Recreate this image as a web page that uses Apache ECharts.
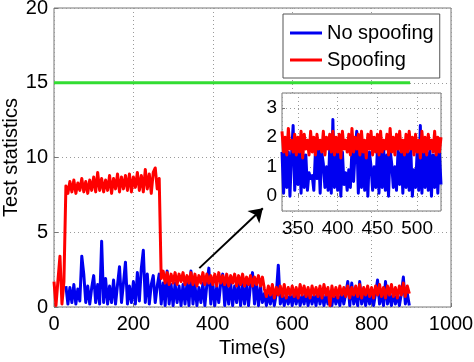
<!DOCTYPE html>
<html><head><meta charset="utf-8">
<script src="https://cdn.jsdelivr.net/npm/echarts@6/dist/echarts.min.js"></script>
<style>html,body{margin:0;padding:0;background:#fff}#c{width:474px;height:362px}</style>
</head><body><div id="c"></div>
<script>
// ---- main plot samples: one every 5 s starting at t = 0 ----
const mainStart = 0, mainStep = 5;
const noSpoofing = [
  null,null,null,null,null,null,1.4,0.2,1.3,0.3,
  1.5,0.2,1.2,0.4,3.4,2.2,0.3,1.4,0.2,1.3,
  2.1,0.3,1.5,0.2,4.4,0.3,1.9,0.2,1.4,0.3,
  1.8,0.2,1.5,2.7,0.3,1.6,3.0,0.2,1.4,0.3,
  1.7,0.2,2.3,0.4,2.6,3.8,0.3,2.2,0.2,1.5,
  2.1,0.3,1.4,2.2,0.2,1.6,0.1,2.4,0.2,1.5,
  0.1,1.6,0.3,1.4,0.1,1.5,0.2,1.6,0.1,2.4,
  0.2,1.5,0.1,1.3,0.3,1.6,0.1,1.5,2.6,0.2,
  1.6,0.1,1.4,0.3,1.6,2.2,0.1,1.5,0.2,1.6,
  0.1,1.4,0.3,1.6,0.1,1.5,0.2,1.6,0.1,1.5,
  2.3,0.2,1.6,0.1,1.4,0.3,0.9,0.1,0.8,0.2,
  1.0,0.1,0.9,2.8,0.2,0.8,0.1,0.9,0.2,0.8,
  0.1,1.0,0.2,0.9,0.1,0.8,0.2,1.0,0.1,0.9,
  0.2,0.8,0.1,1.1,0.2,0.9,0.1,0.8,0.2,1.0,
  0.1,0.9,0.2,0.8,0.1,1.0,0.2,0.9,1.7,0.1,
  1.6,0.2,0.9,0.1,1.7,0.2,0.9,0.1,1.0,0.2,
  0.8,0.1,0.9,1.8,0.2,0.9,0.1,1.7,0.2,0.9,
  0.1,1.0,0.2,0.8,0.1,0.9,2.0,0.2,0.9,0.1
];
const spoofing = [
  1.7,0.1,1.8,3.4,0.2,1.7,8.1,7.6,8.4,7.7,
  8.5,7.6,8.3,7.8,8.6,7.7,8.4,7.6,8.5,7.8,
  8.7,7.7,9.0,7.8,8.6,7.7,8.5,7.8,8.8,7.6,
  8.6,7.9,8.9,7.7,8.7,7.9,8.8,7.8,8.9,7.7,
  8.7,8.0,9.0,7.8,8.8,7.7,9.2,7.9,8.9,7.6,
  9.0,9.3,7.9,8.6,1.9,2.4,1.6,2.3,1.5,2.2,
  1.6,2.3,1.5,2.2,1.7,2.3,1.5,2.1,1.6,2.3,
  1.5,2.2,1.4,2.1,1.6,2.3,1.5,2.2,1.6,2.1,
  1.5,2.2,1.4,2.3,1.6,2.1,1.5,2.2,1.4,2.1,
  1.6,2.2,1.4,2.1,1.5,2.2,1.4,2.0,1.5,2.1,
  1.4,2.0,1.5,2.1,1.4,2.0,1.2,0.7,1.4,0.8,
  1.5,0.6,1.3,0.8,1.4,0.7,1.5,0.6,1.3,0.8,
  1.4,0.7,1.3,0.6,1.5,0.8,1.4,0.7,1.3,0.6,
  1.4,0.8,1.3,0.7,1.4,0.6,1.5,0.8,1.3,0.1,
  1.4,0.7,1.3,0.6,1.4,0.8,1.3,0.7,1.4,0.6,
  1.3,0.8,1.4,0.7,1.5,0.6,1.3,0.8,1.4,0.7,
  1.3,0.6,1.4,0.8,1.5,0.7,1.3,0.6,1.4,0.8,
  1.5,0.7,1.3,0.6,1.4,0.8,1.6,0.7,1.4,0.9
];
// threshold line
const thresholdValue = 15;
const thresholdTimes = [0, 897];

// ---- inset (zoom of 330-530 s): one sample every 2 s ----
const insetStart = 330, insetStep = 2;
const insetNoSpoofing = [
  1.5,0.1,1.6,0.3,1.5,0.0,1.4,2.4,0.2,1.6,
  0.4,1.5,0.1,1.6,0.3,1.4,0.2,0.8,0.6,0.7,
  0.2,1.5,0.6,1.6,0.1,1.5,1.1,0.3,1.0,0.2,
  1.6,0.1,2.6,0.3,1.5,0.2,1.6,0.0,1.5,0.4,
  0.8,0.2,0.9,0.3,1.6,0.5,1.5,2.2,0.1,1.6,
  0.3,1.5,0.2,1.6,0.0,1.5,1.0,0.2,1.0,0.3,
  1.6,0.1,1.5,0.3,1.6,0.2,1.4,0.0,1.6,1.1,
  0.3,1.0,0.2,1.6,0.4,1.5,0.1,1.6,0.3,1.5,
  0.2,1.6,0.0,0.9,0.3,1.5,0.2,2.4,0.1,1.6,
  0.3,1.5,0.2,1.6,0.0,1.4,0.3,1.6,0.1,1.5,
  0.4
];
const insetSpoofing = [
  2.2,1.5,2.0,1.4,2.3,1.6,1.9,1.5,2.1,1.4,
  2.0,1.5,2.2,1.3,2.1,1.6,1.9,1.4,2.2,1.5,
  2.0,1.4,2.1,1.6,1.9,1.5,2.2,1.4,2.0,1.6,
  2.1,1.5,2.2,1.4,2.0,1.5,2.1,1.3,2.2,1.6,
  1.9,1.5,2.1,1.4,2.3,1.5,2.0,1.6,2.1,1.4,
  2.2,1.5,1.9,1.3,2.1,1.6,2.2,1.4,2.0,1.5,
  2.1,1.4,2.2,1.5,1.9,1.6,2.1,1.4,2.3,1.5,
  2.0,1.4,2.1,1.6,2.2,1.5,1.9,1.4,2.1,1.5,
  2.2,1.6,2.0,1.4,2.1,1.5,1.9,1.3,2.2,1.5,
  2.0,1.4,2.1,1.6,1.9,1.5,2.2,1.4,2.0,1.5,
  2.0
];
// arrow annotation (data coordinates of the main axes): tail, head
const arrowTail = [366, 2.6];
const arrowHead = [526, 6.6];

const legendNames = ['No spoofing', 'Spoofing'];

function pairs(start, step, vals) {
  return vals.map((v, i) => [start + i * step, v]);
}

const FONT = "'Liberation Sans', Arial, sans-serif";
const BLUE = '#0000f0', RED = '#ff0000', GREEN = '#33dd33';
const GRIDC = '#9a9a9a', AXC = '#777777';
const LW = 3;

const chart = echarts.init(document.getElementById('c'), null, {renderer: 'canvas'});
const dotted = {show: true, lineStyle: {color: GRIDC, type: [1, 3], width: 1}};
const lineCommon = {type: 'line', showSymbol: false, symbol: 'none', connectNulls: false};
const option = {
  animation: false,
  backgroundColor: '#fff',
  textStyle: {fontFamily: FONT},
  grid: [
    {left: 54, top: 8, right: 23, bottom: 55, show: true, borderColor: AXC, borderWidth: 1, backgroundColor: '#fff',
     containLabel: false, outerBoundsMode: 'none'},
    {left: 282, top: 93, width: 159, height: 118, show: true, borderColor: AXC, borderWidth: 1, backgroundColor: '#fff', z: 5,
     containLabel: false, outerBoundsMode: 'none'}
  ],
  legend: {
    data: legendNames, orient: 'vertical', left: 283, top: 14, z: 10,
    padding: [7, 6, 6, 7], itemGap: 3, itemWidth: 32, itemHeight: 3, icon: 'rect',
    backgroundColor: '#fff', borderColor: '#555', borderWidth: 1,
    textStyle: {fontSize: 20, lineHeight: 24, color: '#000', fontFamily: FONT}
  },
  xAxis: [
    {gridIndex: 0, type: 'value', min: 0, max: 1000, interval: 200,
     axisLine: {show: false}, axisTick: {show: true, inside: true, length: 4, lineStyle: {color: AXC}},
     axisLabel: {color: '#000', fontSize: 20, margin: 7, fontFamily: FONT, formatter: v => String(v)},
     splitLine: dotted,
     name: 'Time(s)', nameLocation: 'middle', nameGap: 30,
     nameTextStyle: {color: '#000', fontSize: 20, fontFamily: FONT}},
    {gridIndex: 1, type: 'value', min: 330, max: 530, splitNumber: 4, z: 6,
     axisLine: {show: false}, axisTick: {show: true, inside: true, length: 3, lineStyle: {color: AXC}},
     axisLabel: {color: '#000', fontSize: 19, margin: 8, showMinLabel: false, showMaxLabel: false, fontFamily: FONT},
     splitLine: dotted}
  ],
  yAxis: [
    {gridIndex: 0, type: 'value', min: 0, max: 20, interval: 5,
     axisLine: {show: false}, axisTick: {show: true, inside: true, length: 4, lineStyle: {color: AXC}},
     axisLabel: {color: '#000', fontSize: 20, margin: 6, fontFamily: FONT},
     splitLine: dotted,
     name: 'Test statistics', nameLocation: 'middle', nameGap: 33, nameMoveOverlap: false,
     nameTextStyle: {color: '#000', fontSize: 20, fontFamily: FONT}},
    {gridIndex: 1, type: 'value', min: -0.5, max: 3.5, splitNumber: 4, z: 6,
     axisLine: {show: false}, axisTick: {show: true, inside: true, length: 3, lineStyle: {color: AXC}},
     axisLabel: {color: '#000', fontSize: 19, margin: 5, showMinLabel: false, showMaxLabel: false, fontFamily: FONT},
     splitLine: dotted}
  ],
  series: [
    Object.assign({}, lineCommon, {name: legendNames[0], xAxisIndex: 0, yAxisIndex: 0, z: 2,
     data: pairs(mainStart, mainStep, noSpoofing), lineStyle: {color: BLUE, width: LW, join: 'round', cap: 'butt'}, itemStyle: {color: BLUE}}),
    Object.assign({}, lineCommon, {name: legendNames[1], xAxisIndex: 0, yAxisIndex: 0, z: 3,
     data: pairs(mainStart, mainStep, spoofing), lineStyle: {color: RED, width: LW, join: 'round', cap: 'butt'}, itemStyle: {color: RED},
     markLine: {silent: true, symbol: ['none', 'arrow'], symbolSize: 13, label: {show: false},
       lineStyle: {color: '#000', width: 2, type: 'solid'},
       data: [[{coord: arrowTail}, {coord: arrowHead}]]}}),
    {name: 'threshold', type: 'line', xAxisIndex: 0, yAxisIndex: 0, showSymbol: false, z: 3,
     data: thresholdTimes.map(t => [t, thresholdValue]), lineStyle: {color: GREEN, width: 3}, itemStyle: {color: GREEN}},
    Object.assign({}, lineCommon, {name: legendNames[0], xAxisIndex: 1, yAxisIndex: 1, z: 7,
     data: pairs(insetStart, insetStep, insetNoSpoofing), lineStyle: {color: BLUE, width: LW, join: 'round', cap: 'butt'}, itemStyle: {color: BLUE}}),
    Object.assign({}, lineCommon, {name: legendNames[1], xAxisIndex: 1, yAxisIndex: 1, z: 8,
     data: pairs(insetStart, insetStep, insetSpoofing), lineStyle: {color: RED, width: LW, join: 'round', cap: 'butt'}, itemStyle: {color: RED}})
  ]
};
chart.setOption(option);
</script></body></html>
